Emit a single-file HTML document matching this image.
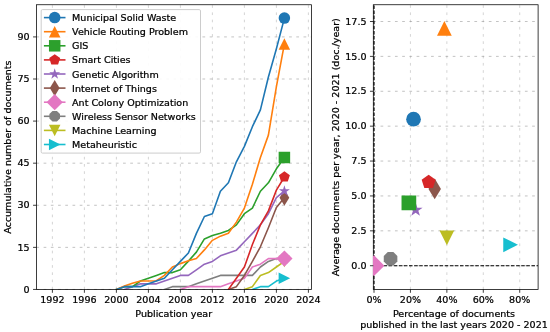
<!DOCTYPE html>
<html lang="en"><head><meta charset="utf-8"><title>Keyword trends</title>
<style>html,body{margin:0;padding:0;background:#fff}svg{display:block}text{stroke:#000;stroke-width:.24px}</style></head>
<body>
<svg width="550" height="332" viewBox="0 0 550 332" font-family="'DejaVu Sans', 'Liberation Sans', sans-serif" font-size="9.55" fill="#000">
<rect width="550" height="332" fill="#fff"/>
<defs><clipPath id="cl"><rect x="36.4" y="4.75" width="275" height="284.7"/></clipPath><clipPath id="cr"><rect x="372.95" y="4.75" width="165.15" height="284.7"/></clipPath></defs>
<g stroke="#808080" stroke-width="0.48" stroke-dasharray="2.7 4.52" fill="none">
<path d="M52.4 289.45V4.75" stroke-opacity=".7"/>
<path d="M84.4 289.45V4.75" stroke-opacity=".7"/>
<path d="M116.4 289.45V4.75" stroke-opacity=".7"/>
<path d="M148.4 289.45V4.75" stroke-opacity=".7"/>
<path d="M180.4 289.45V4.75" stroke-opacity=".7"/>
<path d="M212.4 289.45V4.75" stroke-opacity=".7"/>
<path d="M244.4 289.45V4.75" stroke-opacity=".7"/>
<path d="M276.4 289.45V4.75" stroke-opacity=".7"/>
<path d="M308.4 289.45V4.75" stroke-opacity=".7"/>
<path d="M36.4 289.45H311.4"/>
<path d="M36.4 247.36H311.4"/>
<path d="M36.4 205.27H311.4"/>
<path d="M36.4 163.18H311.4"/>
<path d="M36.4 121.09H311.4"/>
<path d="M36.4 79H311.4"/>
<path d="M36.4 36.91H311.4"/>
<path d="M374 289.45V4.75" stroke-opacity=".7"/>
<path d="M410.43 289.45V4.75" stroke-opacity=".7"/>
<path d="M446.86 289.45V4.75" stroke-opacity=".7"/>
<path d="M483.29 289.45V4.75" stroke-opacity=".7"/>
<path d="M519.72 289.45V4.75" stroke-opacity=".7"/>
<path d="M373.3 265.72H538.1"/>
<path d="M373.3 230.84H538.1"/>
<path d="M373.3 195.95H538.1"/>
<path d="M373.3 161.06H538.1"/>
<path d="M373.3 126.17H538.1"/>
<path d="M373.3 91.28H538.1"/>
<path d="M373.3 56.39H538.1"/>
<path d="M373.3 21.5H538.1"/>
</g>
<g clip-path="url(#cl)" fill="none" stroke-width="1.6" stroke-linejoin="round" stroke-linecap="square">
<polyline points="252.4,289.45 260.4,286.64 268.4,286.64 276.4,281.03 284.4,278.23" stroke="#17becf"/>
<polygon points="290.15,278.23 278.65,272.48 278.65,283.98" fill="#17becf" stroke="none"/>
<polyline points="244.4,289.45 252.4,286.64 260.4,275.42 268.4,272.61 276.4,267 284.4,261.39" stroke="#bcbd22"/>
<polygon points="284.4,267.14 278.65,255.64 290.15,255.64" fill="#bcbd22" stroke="none"/>
<polyline points="164.4,289.45 172.4,286.64 180.4,286.64 188.4,286.64 196.4,283.84 204.4,281.03 212.4,278.23 220.4,275.42 228.4,275.42 236.4,275.42 244.4,275.42 252.4,275.42 260.4,267 268.4,261.39 276.4,258.58 284.4,258.58" stroke="#7f7f7f"/>
<polygon points="286.6,253.27 289.71,256.38 289.71,260.78 286.6,263.9 282.2,263.9 279.09,260.78 279.09,256.38 282.2,253.27" fill="#7f7f7f" stroke="none"/>
<polyline points="180.4,289.45 188.4,286.64 196.4,286.64 204.4,286.64 212.4,286.64 220.4,286.64 228.4,283.84 236.4,281.03 244.4,278.23 252.4,267 260.4,264.2 268.4,258.58 276.4,258.58 284.4,258.58" stroke="#e377c2"/>
<polygon points="276.27,258.58 284.4,250.45 292.53,258.58 284.4,266.72" fill="#e377c2" stroke="none"/>
<polyline points="228.4,289.45 236.4,286.64 244.4,275.42 252.4,261.39 260.4,246.8 268.4,227.72 276.4,207.51 284.4,197.69" stroke="#8c564b"/>
<polygon points="279.52,197.69 284.4,189.56 289.28,197.69 284.4,205.83" fill="#8c564b" stroke="none"/>
<polyline points="124.4,289.45 132.4,286.64 140.4,283.84 148.4,283.84 156.4,283.84 164.4,281.03 172.4,278.23 180.4,275.42 188.4,275.42 196.4,269.81 204.4,264.2 212.4,261.39 220.4,255.78 228.4,252.97 236.4,250.17 244.4,241.75 252.4,233.33 260.4,224.91 268.4,213.69 276.4,197.69 284.4,190.96" stroke="#9467bd"/>
<polygon points="284.4,185.21 285.69,189.18 289.87,189.18 286.49,191.64 287.78,195.61 284.4,193.16 281.02,195.61 282.31,191.64 278.93,189.18 283.11,189.18" fill="#9467bd" stroke="none"/>
<polyline points="228.4,289.45 236.4,278.23 244.4,267 252.4,244.55 260.4,224.91 268.4,210.88 276.4,190.12 284.4,176.93" stroke="#d62728"/>
<polygon points="284.4,171.18 289.87,175.15 287.78,181.58 281.02,181.58 278.93,175.15" fill="#d62728" stroke="none"/>
<polyline points="116.4,289.45 124.4,286.64 132.4,286.64 140.4,281.03 148.4,278.23 156.4,275.42 164.4,272.61 172.4,272.61 180.4,269.81 188.4,261.11 196.4,252.13 204.4,238.94 212.4,235.57 220.4,233.33 228.4,230.52 236.4,224.91 244.4,213.69 252.4,208.08 260.4,191.24 268.4,182.82 276.4,168.79 284.4,157.57" stroke="#2ca02c"/>
<polygon points="278.65,163.32 290.15,163.32 290.15,151.82 278.65,151.82" fill="#2ca02c" stroke="none"/>
<polyline points="116.4,289.45 124.4,285.94 132.4,283.28 140.4,281.03 148.4,281.03 156.4,280.75 164.4,275.42 172.4,267 180.4,263.63 188.4,260.83 196.4,258.58 204.4,249.89 212.4,240.34 220.4,236.14 228.4,233.33 236.4,222.11 244.4,208.08 252.4,184.22 260.4,157.57 268.4,135.12 276.4,86.58 284.4,43.92" stroke="#ff7f0e"/>
<polygon points="284.4,38.17 278.65,49.67 290.15,49.67" fill="#ff7f0e" stroke="none"/>
<polyline points="116.4,289.45 124.4,286.64 132.4,286.64 140.4,286.64 148.4,283.84 156.4,281.03 164.4,278.23 172.4,269.81 180.4,261.39 188.4,252.97 196.4,233.33 204.4,216.49 212.4,213.69 220.4,191.24 228.4,182.82 236.4,161.78 244.4,146.34 252.4,126.7 260.4,109.87 268.4,77.04 276.4,48.7 284.4,18.11" stroke="#1f77b4"/>
<circle cx="284.4" cy="18.11" r="5.75" fill="#1f77b4" stroke="none"/>
</g>
<g clip-path="url(#cr)">
<path d="M373.3 265.72H538.1" stroke="#000" stroke-width="1.15" stroke-dasharray="3.56 1.54" fill="none"/>
<path d="M374 289.45V4.75" stroke="#000" stroke-width="1.15" stroke-dasharray="3.56 1.54" fill="none"/>
</g>
<g fill="none" stroke="#000" stroke-width="0.76" stroke-linecap="square">
<rect x="36.4" y="4.75" width="275" height="284.7"/>
<rect x="373.3" y="4.75" width="164.8" height="284.7"/>
</g>
<g clip-path="url(#cr)">
<polygon points="517.96,244.79 503.26,237.44 503.26,252.14" fill="#17becf"/>
<polygon points="446.86,245.16 439.51,230.46 454.21,230.46" fill="#bcbd22"/>
<polygon points="393.37,251.96 397.35,255.93 397.35,261.56 393.37,265.54 387.74,265.54 383.77,261.56 383.77,255.93 387.74,251.96" fill="#7f7f7f"/>
<polygon points="363.61,265.72 374,255.33 384.39,265.72 374,276.12" fill="#e377c2"/>
<polygon points="428.47,188.97 434.71,178.57 440.95,188.97 434.71,199.36" fill="#8c564b"/>
<polygon points="415.64,202.55 417.29,207.63 422.63,207.63 418.31,210.77 419.96,215.85 415.64,212.71 411.32,215.85 412.97,210.77 408.65,207.63 413.99,207.63" fill="#9467bd"/>
<polygon points="428.64,174.64 435.64,179.72 432.97,187.94 424.32,187.94 421.65,179.72" fill="#d62728"/>
<polygon points="401.53,210.27 416.23,210.27 416.23,195.57 401.53,195.57" fill="#2ca02c"/>
<polygon points="444.38,21.12 437.03,35.82 451.73,35.82" fill="#ff7f0e"/>
<circle cx="413.53" cy="119.19" r="7.35" fill="#1f77b4"/>
</g>
<g stroke="#000" stroke-width="0.76" fill="none">
<path d="M52.4 289.45v3.34"/>
<path d="M84.4 289.45v3.34"/>
<path d="M116.4 289.45v3.34"/>
<path d="M148.4 289.45v3.34"/>
<path d="M180.4 289.45v3.34"/>
<path d="M212.4 289.45v3.34"/>
<path d="M244.4 289.45v3.34"/>
<path d="M276.4 289.45v3.34"/>
<path d="M308.4 289.45v3.34"/>
<path d="M36.4 289.45h-3.34"/>
<path d="M36.4 247.36h-3.34"/>
<path d="M36.4 205.27h-3.34"/>
<path d="M36.4 163.18h-3.34"/>
<path d="M36.4 121.09h-3.34"/>
<path d="M36.4 79h-3.34"/>
<path d="M36.4 36.91h-3.34"/>
<path d="M374 289.45v3.34"/>
<path d="M410.43 289.45v3.34"/>
<path d="M446.86 289.45v3.34"/>
<path d="M483.29 289.45v3.34"/>
<path d="M519.72 289.45v3.34"/>
<path d="M373.3 265.72h-3.34"/>
<path d="M373.3 230.84h-3.34"/>
<path d="M373.3 195.95h-3.34"/>
<path d="M373.3 161.06h-3.34"/>
<path d="M373.3 126.17h-3.34"/>
<path d="M373.3 91.28h-3.34"/>
<path d="M373.3 56.39h-3.34"/>
<path d="M373.3 21.5h-3.34"/>
</g>
<g text-anchor="middle">
<text x="52.4" y="303.38">1992</text>
<text x="84.4" y="303.38">1996</text>
<text x="116.4" y="303.38">2000</text>
<text x="148.4" y="303.38">2004</text>
<text x="180.4" y="303.38">2008</text>
<text x="212.4" y="303.38">2012</text>
<text x="244.4" y="303.38">2016</text>
<text x="276.4" y="303.38">2020</text>
<text x="308.4" y="303.38">2024</text>
<text x="374" y="303.38">0%</text>
<text x="410.43" y="303.38">20%</text>
<text x="446.86" y="303.38">40%</text>
<text x="483.29" y="303.38">60%</text>
<text x="519.72" y="303.38">80%</text>
</g>
<g text-anchor="end">
<text x="29.56" y="292.65">0</text>
<text x="29.56" y="250.56">15</text>
<text x="29.56" y="208.47">30</text>
<text x="29.56" y="166.38">45</text>
<text x="29.56" y="124.29">60</text>
<text x="29.56" y="82.2">75</text>
<text x="29.56" y="40.11">90</text>
<text x="366.56" y="268.92">0.0</text>
<text x="366.56" y="234.04">2.5</text>
<text x="366.56" y="199.15">5.0</text>
<text x="366.56" y="164.26">7.5</text>
<text x="366.56" y="129.37">10.0</text>
<text x="366.56" y="94.48">12.5</text>
<text x="366.56" y="59.59">15.0</text>
<text x="366.56" y="24.7">17.5</text>
</g>
<text x="173.7" y="316.5" text-anchor="middle">Publication year</text>
<text transform="translate(11 147.1) rotate(-90)" text-anchor="middle">Accumulative number of documents</text>
<text x="454" y="316.5" text-anchor="middle">Percentage of documents</text>
<text x="454" y="327.5" text-anchor="middle">published in the last years 2020 - 2021</text>
<text transform="translate(338.8 147.2) rotate(-90)" text-anchor="middle">Average documents per year, 2020 - 2021 (doc./year)</text>
<rect x="41.2" y="9.6" width="159.3" height="143.5" rx="1.3" ry="1.3" fill="#fff" fill-opacity="0.9" stroke="#c6c6c6" stroke-width="0.9"/>
<path d="M44.7 17.6H64.7" stroke="#1f77b4" stroke-width="1.6" stroke-linecap="square" fill="none"/>
<circle cx="54.7" cy="17.6" r="5.75" fill="#1f77b4"/>
<text x="72.1" y="21.1">Municipal Solid Waste</text>
<path d="M44.7 31.7H64.7" stroke="#ff7f0e" stroke-width="1.6" stroke-linecap="square" fill="none"/>
<polygon points="54.7,25.95 48.95,37.45 60.45,37.45" fill="#ff7f0e"/>
<text x="72.1" y="35.2">Vehicle Routing Problem</text>
<path d="M44.7 45.8H64.7" stroke="#2ca02c" stroke-width="1.6" stroke-linecap="square" fill="none"/>
<polygon points="48.95,51.55 60.45,51.55 60.45,40.05 48.95,40.05" fill="#2ca02c"/>
<text x="72.1" y="49.3">GIS</text>
<path d="M44.7 59.9H64.7" stroke="#d62728" stroke-width="1.6" stroke-linecap="square" fill="none"/>
<polygon points="54.7,54.15 60.17,58.12 58.08,64.55 51.32,64.55 49.23,58.12" fill="#d62728"/>
<text x="72.1" y="63.4">Smart Cities</text>
<path d="M44.7 74H64.7" stroke="#9467bd" stroke-width="1.6" stroke-linecap="square" fill="none"/>
<polygon points="54.7,68.25 55.99,72.22 60.17,72.22 56.79,74.68 58.08,78.65 54.7,76.2 51.32,78.65 52.61,74.68 49.23,72.22 53.41,72.22" fill="#9467bd"/>
<text x="72.1" y="77.5">Genetic Algorithm</text>
<path d="M44.7 88.1H64.7" stroke="#8c564b" stroke-width="1.6" stroke-linecap="square" fill="none"/>
<polygon points="49.82,88.1 54.7,79.97 59.58,88.1 54.7,96.23" fill="#8c564b"/>
<text x="72.1" y="91.6">Internet of Things</text>
<path d="M44.7 102.2H64.7" stroke="#e377c2" stroke-width="1.6" stroke-linecap="square" fill="none"/>
<polygon points="46.57,102.2 54.7,94.07 62.83,102.2 54.7,110.33" fill="#e377c2"/>
<text x="72.1" y="105.7">Ant Colony Optimization</text>
<path d="M44.7 116.3H64.7" stroke="#7f7f7f" stroke-width="1.6" stroke-linecap="square" fill="none"/>
<polygon points="56.9,110.99 60.01,114.1 60.01,118.5 56.9,121.61 52.5,121.61 49.39,118.5 49.39,114.1 52.5,110.99" fill="#7f7f7f"/>
<text x="72.1" y="119.8">Wireless Sensor Networks</text>
<path d="M44.7 130.4H64.7" stroke="#bcbd22" stroke-width="1.6" stroke-linecap="square" fill="none"/>
<polygon points="54.7,136.15 48.95,124.65 60.45,124.65" fill="#bcbd22"/>
<text x="72.1" y="133.9">Machine Learning</text>
<path d="M44.7 144.5H64.7" stroke="#17becf" stroke-width="1.6" stroke-linecap="square" fill="none"/>
<polygon points="60.45,144.5 48.95,138.75 48.95,150.25" fill="#17becf"/>
<text x="72.1" y="148">Metaheuristic</text>
</svg>
</body></html>
